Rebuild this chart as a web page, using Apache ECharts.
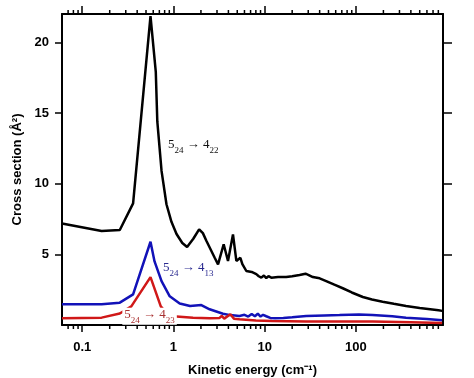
<!DOCTYPE html>
<html>
<head>
<meta charset="utf-8">
<script src="https://cdn.jsdelivr.net/npm/echarts@6/dist/echarts.min.js"></script>
<style>html,body{margin:0;padding:0;background:#fff}#c{width:474px;height:378px}</style>
</head>
<body>
<div id="c"></div>
<script>
// ---- data ----
const energyBlack = [0.06, 0.163, 0.258, 0.361, 0.56, 0.64, 0.665, 0.74, 0.838, 0.95, 1.08, 1.25, 1.41, 1.65, 1.91, 2.1, 2.30, 2.83, 3.08, 3.55, 3.96, 4.49, 4.89, 5.41, 5.69, 6.29, 7.2, 8.09, 8.6, 9.18, 9.8, 10.4, 11.0, 11.8, 14, 17.2, 20, 24.1, 28.0, 30, 33.7, 40, 47.2, 58, 71.7, 90, 119, 150, 196, 260, 354, 500, 805, 880];
const sigmaBlack  = [7.18, 6.65, 6.72, 8.6, 21.85, 17.9, 14.4, 10.9, 8.54, 7.3, 6.44, 5.8, 5.52, 6.1, 6.77, 6.5, 5.94, 4.76, 4.29, 5.71, 4.53, 6.41, 4.53, 4.75, 4.31, 3.82, 3.75, 3.6, 3.45, 3.35, 3.5, 3.32, 3.45, 3.35, 3.4, 3.39, 3.45, 3.54, 3.63, 3.55, 3.39, 3.3, 3.11, 2.85, 2.6, 2.3, 1.98, 1.8, 1.65, 1.5, 1.34, 1.2, 1.04, 1.0];

const energyBlue = [0.06, 0.163, 0.258, 0.361, 0.56, 0.62, 0.74, 0.91, 1.17, 1.52, 2.02, 2.49, 3.49, 4.2, 5.28, 6.0, 6.6, 7.2, 7.8, 8.4, 9.0, 9.6, 10.4, 11.5, 13, 16, 20, 28.5, 45, 66, 108, 152, 250, 354, 600, 880];
const sigmaBlue  = [1.46, 1.46, 1.58, 2.17, 5.89, 4.5, 3.1, 2.03, 1.52, 1.34, 1.41, 1.11, 0.80, 0.7, 0.64, 0.72, 0.6, 0.78, 0.62, 0.8, 0.6, 0.72, 0.62, 0.5, 0.47, 0.5, 0.55, 0.64, 0.68, 0.71, 0.75, 0.71, 0.62, 0.52, 0.42, 0.33];

const energyRed = [0.06, 0.163, 0.258, 0.345, 0.56, 0.726, 0.85, 0.99, 1.64, 2.5, 3.2, 3.38, 3.6, 4.2, 4.6, 5.28, 8, 12, 28.5, 152, 400, 880];
const sigmaRed  = [0.47, 0.52, 0.81, 1.32, 3.39, 1.32, 0.8, 0.62, 0.52, 0.48, 0.5, 0.64, 0.45, 0.76, 0.45, 0.4, 0.32, 0.28, 0.24, 0.24, 0.2, 0.15];

const xMajorTicks = [0.1, 1, 10, 100];
const xMinorTicks = [0.07, 0.08, 0.09, 0.2, 0.3, 0.4, 0.5, 0.6, 0.7, 0.8, 0.9, 2, 3, 4, 5, 6, 7, 8, 9, 20, 30, 40, 50, 60, 70, 80, 90, 200, 300, 400, 500, 600, 700, 800];
const yTicks = [5, 10, 15, 20];
const xMin = 0.06, xMax = 900, yMin = 0, yMax = 22;

const labelBlack = '5{s|24} \u2192 4{s|22}';
const labelBlue  = '5{s|24} \u2192 4{s|13}';
const labelRed   = '5{s|24} \u2192 4{s|23}';

// ---- chart ----
const zip = (a, b) => a.map((v, i) => [v, b[i]]);
const chart = echarts.init(document.getElementById('c'), null, {renderer: 'canvas'});
const font = 'Liberation Sans, Arial, sans-serif';
const serif = 'Liberation Serif, Times New Roman, serif';

function richFor(color) {
  return {
    a: {fontFamily: serif, fontSize: 13, color: color, lineHeight: 17, verticalAlign: 'top'},
    s: {fontFamily: serif, fontSize: 9, color: color, lineHeight: 10, verticalAlign: 'bottom'}
  };
}
function annot(text, coord, color, bg) {
  return {
    coord: coord,
    symbol: 'circle', symbolSize: 0,
    label: {
      show: true, position: 'right', distance: 0,
      formatter: text.replace(/^([^{]+)/, '{a|$1}').replace(/\}([^{]+)\{/g, '}{a|$1}{'),
      rich: richFor(color),
      backgroundColor: bg || 'transparent',
      padding: bg ? [0, 2, 0, 2] : 0
    }
  };
}

const axisLineStyle = {color: '#000', width: 2};
const xAxisBase = {
  type: 'log', logBase: 10, min: xMin, max: xMax,
  splitLine: {show: false}, minorTick: {show: false},
  axisLine: {show: true, onZero: false, lineStyle: axisLineStyle},
  axisTick: {show: true, length: 7, lineStyle: {color: '#000', width: 1.5}, customValues: xMajorTicks}
};
const yAxisBase = {
  type: 'value', min: yMin, max: yMax, interval: 5,
  splitLine: {show: false},
  axisLine: {show: true, onZero: false, lineStyle: axisLineStyle},
  axisTick: {show: true, length: 7, lineStyle: {color: '#000', width: 1.5}, customValues: yTicks}
};

const option = {
  animation: false,
  backgroundColor: '#fff',
  grid: {left: 62, right: 31, top: 14, bottom: 53, containLabel: false, outerBoundsMode: 'none'},
  xAxis: [
    Object.assign({}, xAxisBase, {
      position: 'bottom',
      axisLabel: {show: true, customValues: xMajorTicks, fontFamily: font, fontSize: 13, fontWeight: 'bold', color: '#000', margin: 16,
        formatter: v => String(+(+v).toPrecision(6))},
      name: 'Kinetic energy (cm\u207B\u00B9)', nameLocation: 'middle', nameGap: 39,
      nameTextStyle: {fontFamily: font, fontSize: 13, fontWeight: 'bold', color: '#000'}
    }),
    Object.assign({}, xAxisBase, {
      position: 'top', axisLabel: {show: false},
      axisTick: {show: true, length: 8, lineStyle: {color: '#000', width: 1.5}, customValues: xMajorTicks}
    })
  ],
  yAxis: [
    Object.assign({}, yAxisBase, {
      position: 'left',
      axisLabel: {show: true, customValues: yTicks, fontFamily: font, fontSize: 13, fontWeight: 'bold', color: '#000', margin: 13},
      name: 'Cross section (\u00C5\u00B2)', nameLocation: 'middle', nameGap: 38,
      nameTextStyle: {fontFamily: font, fontSize: 13, fontWeight: 'bold', color: '#000'}
    }),
    Object.assign({}, yAxisBase, {
      position: 'right', axisLabel: {show: false},
      axisTick: {show: true, length: 9, lineStyle: {color: '#000', width: 1.5}, customValues: yTicks}
    })
  ],
  series: [
    {
      type: 'custom', name: 'minorTicks', xAxisIndex: 0, yAxisIndex: 0, clip: false, silent: true,
      data: xMinorTicks.map(v => [v, yMin]),
      renderItem: function (params, api) {
        const v = api.value(0);
        const pb = api.coord([v, yMin]);
        const pt = api.coord([v, yMax]);
        const st = {stroke: '#000', lineWidth: 1.5};
        return {type: 'group', children: [
          {type: 'line', shape: {x1: pb[0], y1: pb[1], x2: pb[0], y2: pb[1] + 4}, style: st},
          {type: 'line', shape: {x1: pt[0], y1: pt[1], x2: pt[0], y2: pt[1] - 4}, style: st}
        ]};
      }
    },
    {
      type: 'line', name: '5_24 -> 4_22', data: zip(energyBlack, sigmaBlack),
      showSymbol: false, symbol: 'none', lineStyle: {color: '#000', width: 2.5}, itemStyle: {color: '#000'}
    },
    {
      type: 'line', name: '5_24 -> 4_13', data: zip(energyBlue, sigmaBlue),
      showSymbol: false, symbol: 'none', lineStyle: {color: '#1212b8', width: 2.5}, itemStyle: {color: '#1212b8'}
    },
    {
      type: 'line', name: '5_24 -> 4_23', data: zip(energyRed, sigmaRed),
      showSymbol: false, symbol: 'none', lineStyle: {color: '#d01818', width: 2.5}, itemStyle: {color: '#d01818'},
      markPoint: {
        silent: true, animation: false,
        data: [
          annot(labelBlack, [0.87, 12.6], '#111'),
          annot(labelBlue, [0.77, 3.9], '#2a2a90'),
          annot(labelRed, [0.275, 0.62], '#a83030', '#fff')
        ]
      }
    }
  ]
};
chart.setOption(option);
</script>
</body>
</html>
